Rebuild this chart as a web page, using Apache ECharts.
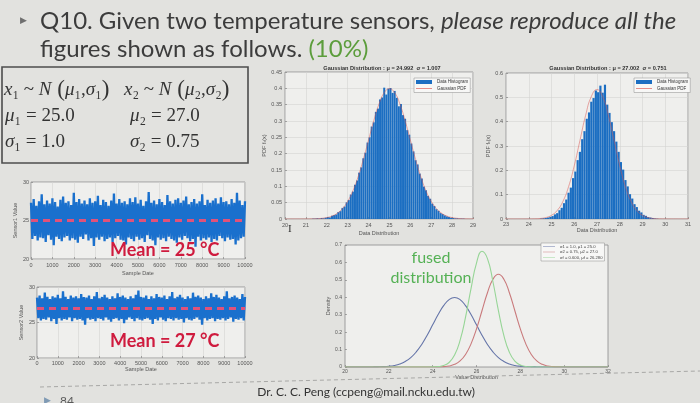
<!DOCTYPE html>
<html><head><meta charset="utf-8">
<script src="https://cdn.jsdelivr.net/npm/echarts@6/dist/echarts.min.js"></script>
<style>html,body{margin:0;padding:0;background:#e2e2df}#c{width:700px;height:403px}</style>
</head><body><div id="c"></div>
<script>
// ---------- data ----------
const sampleMax = 10000;
const sensor1 = [
27.3,22.6,27.8,23.0,26.9,22.4,27.5,22.8,28.4,22.7,
27.1,22.2,27.6,23.1,27.2,22.5,27.9,21.8,27.4,22.9,
26.8,22.6,27.7,22.3,28.1,22.8,27.3,23.0,27.5,22.4,
27.0,22.7,28.6,22.5,27.4,22.1,27.8,22.9,27.2,22.6,
27.6,23.2,27.1,22.4,27.9,22.7,27.3,21.7,27.5,22.8,
28.2,22.5,27.0,22.9,27.7,22.3,27.4,22.6,26.9,22.8,
27.6,22.2,28.5,22.7,27.2,23.0,27.8,22.5,27.3,22.4,
27.5,21.9,27.1,22.8,27.9,22.6,27.4,22.3,28.0,22.9,
27.2,22.5,27.7,22.7,26.9,22.2,27.5,23.1,28.7,22.6,
27.3,22.4,27.6,21.8,27.1,22.8,27.8,22.5,27.4,22.7,
27.0,22.3,28.3,22.9,27.5,22.6,27.2,22.4,27.7,22.1,
27.9,22.8,27.3,22.5,27.6,23.0,28.1,22.7,27.1,22.3,
27.4,22.6,27.8,21.6,27.2,22.9,27.5,22.4,28.4,22.7,
27.0,22.5,27.7,22.8,27.3,22.2,27.6,22.6,27.9,22.4,
27.2,23.0,28.0,22.7,27.4,22.3,27.5,22.8,27.1,22.5,
27.8,22.6,27.3,21.9,28.6,22.4,27.6,22.7,27.0,22.9,
27.5];
const sensor2 = [
28.5,25.6,28.8,25.3,28.4,25.5,29.2,25.4,28.6,25.7,
28.3,25.2,28.7,25.5,28.5,24.8,28.9,25.6,28.4,25.3,
29.4,25.5,28.6,25.4,28.3,25.7,28.8,25.2,28.5,25.6,
28.7,25.4,28.4,25.5,29.0,25.3,28.6,24.7,28.5,25.6,
28.8,25.4,28.3,25.5,28.7,25.2,29.3,25.6,28.4,25.5,
28.6,25.3,28.9,25.7,28.5,25.4,28.3,25.1,28.7,25.5,
28.4,25.6,29.1,25.3,28.6,25.5,28.8,24.9,28.5,25.4,
28.3,25.7,28.7,25.5,28.4,25.2,28.9,25.6,29.5,25.4,
28.6,25.3,28.5,25.5,28.8,25.6,28.3,25.4,28.7,24.8,
28.4,25.5,29.0,25.3,28.6,25.7,28.5,25.4,28.8,25.2,
28.3,25.6,28.7,25.5,29.3,25.3,28.4,25.6,28.6,25.4,
28.9,25.5,28.5,25.0,28.3,25.6,28.7,25.4,28.4,25.3,
29.2,25.5,28.6,25.7,28.8,25.4,28.5,24.7,28.3,25.6,
28.7,25.3,28.4,25.5,29.1,25.6,28.6,25.2,28.9,25.5,
28.5,25.4,28.3,25.6,28.7,25.3,29.4,25.5,28.4,25.7,
28.6,25.1,28.8,25.5,28.5,25.4,28.3,25.6,29.0,25.3,
28.6];
const mean1 = 25;
const mean2 = 27;

const hist1Start = 21.3, hist1Width = 0.1;
const hist1 = [
0.001,0.001,0.002,0.001,0.003,0.002,0.004,0.006,0.005,0.010,
0.012,0.014,0.021,0.024,0.034,0.038,0.051,0.058,0.075,0.084,
0.105,0.118,0.142,0.158,0.186,0.203,0.234,0.250,0.283,0.296,
0.328,0.338,0.366,0.372,0.402,0.381,0.399,0.401,0.386,0.392,
0.371,0.345,0.352,0.318,0.307,0.272,0.258,0.231,0.207,0.180,
0.167,0.139,0.124,0.099,0.088,0.071,0.062,0.047,0.040,0.030,
0.025,0.018,0.015,0.011,0.008,0.006,0.004,0.003,0.002,0.002,
0.001,0.001,0.001,0.000];
const hist2Start = 24.5, hist2Width = 0.1;
const hist2 = [
0.002,0.003,0.004,0.006,0.009,0.012,0.019,0.024,0.036,0.046,
0.065,0.080,0.108,0.129,0.168,0.195,0.242,0.276,0.328,0.361,
0.412,0.438,0.482,0.497,0.528,0.521,0.548,0.519,0.552,0.470,
0.436,0.398,0.361,0.318,0.276,0.234,0.203,0.160,0.134,0.102,
0.084,0.061,0.049,0.034,0.027,0.017,0.013,0.008,0.006,0.004,
0.002,0.001];

const pdfX = [20,20.25,20.5,20.75,21,21.25,21.5,21.75,22,22.25,22.5,22.75,23,23.25,23.5,23.75,
24,24.25,24.5,24.75,25,25.25,25.5,25.75,26,26.25,26.5,26.75,27,27.25,27.5,27.75,
28,28.25,28.5,28.75,29,29.25,29.5,29.75,30,30.25,30.5,30.75,31,31.25,31.5,31.75,32];
const pdf1 = [0,0,0,0,0.0001,0.0004,0.0009,0.0020,0.0044,0.0091,0.0175,0.0317,0.0540,0.0863,0.1295,0.1826,
0.2420,0.3011,0.3521,0.3867,0.3989,0.3867,0.3521,0.3011,0.2420,0.1826,0.1295,0.0863,0.0540,0.0317,0.0175,0.0091,
0.0044,0.0020,0.0009,0.0004,0.0001,0,0,0,0,0,0,0,0,0,0,0,0];
const pdf2 = [0,0,0,0,0,0,0,0,0,0,0,0,0,0,0,0,
0.0002,0.0006,0.0021,0.0059,0.0152,0.0350,0.0720,0.1327,0.2187,0.3227,0.4259,0.5032,0.5319,0.5032,0.4259,0.3227,
0.2187,0.1327,0.0720,0.0350,0.0152,0.0059,0.0021,0.0006,0.0002,0,0,0,0,0,0,0,0];
const pdfF = [0,0,0,0,0,0,0,0,0,0,0,0,0,0,0,0.0001,
0.0005,0.0022,0.0082,0.0258,0.0683,0.1523,0.2857,0.4501,0.5963,0.6640,0.6217,0.4892,0.3237,0.1799,0.0842,0.0331,
0.0109,0.0030,0.0007,0.0002,0,0,0,0,0,0,0,0,0,0,0,0,0];

const legendF = ['σ1 = 1.0, μ1 = 25.0', 'σ2 = 0.75, μ2 = 27.0', 'σf = 0.600, μf = 26.280'];
const title1 = 'Gaussian Distribution : μ = 24.992  σ = 1.007';
const title2 = 'Gaussian Distribution : μ = 27.002  σ = 0.751';

// ---------- chart ----------
const chart = echarts.init(document.getElementById('c'), null, {renderer: 'canvas'});
const G = [
  {left:31, top:182, width:214, height:77},
  {left:37, top:287, width:208, height:71},
  {left:285, top:72, width:188, height:147},
  {left:506, top:73, width:182, height:146},
  {left:345, top:245, width:263, height:122}
];
const grids = G.map(g => Object.assign({show:true, backgroundColor:'#efefed', borderColor:'#8c8c8c', borderWidth:0.8, outerBoundsMode:'none', containLabel:false}, g));

const fmt = v => String(Math.round(v * 1e6) / 1e6);
const lbl = {color:'#555', fontSize:5.5, margin:3, fontFamily:'Liberation Sans', showMinLabel:true, showMaxLabel:true, formatter: fmt};
const nm = {color:'#555', fontSize:5.5, fontFamily:'Liberation Sans'};
function ax(gi, min, max, interval, name, gap, extra) {
  return Object.assign({
    gridIndex: gi, type: 'value', min, max, interval,
    name, nameLocation: 'middle', nameGap: gap, nameTextStyle: nm,
    axisLine: {show: false},
    axisTick: {show: true, inside: true, length: 2, lineStyle: {color: '#777', width: 0.6}},
    axisLabel: Object.assign({}, lbl),
    splitLine: {show: true, lineStyle: {color: '#d3d3d1', width: 0.6}}
  }, extra || {});
}
const xAxes = [
  ax(0, 0, sampleMax, 1000, 'Sample Date', 11, {axisLabel: Object.assign({}, lbl, {margin: 3})}),
  ax(1, 0, sampleMax, 1000, 'Sample Date', 7, {axisLabel: Object.assign({}, lbl, {margin: 2})}),
  ax(2, 20, 29, 1, 'Data Distribution', 11, {}),
  ax(3, 23, 31, 1, 'Data Distribution', 8, {axisLabel: Object.assign({}, lbl, {margin: 2})}),
  ax(4, 20, 32, 2, 'Value Distribution', 6, {splitLine: {show: false}, axisLabel: Object.assign({}, lbl, {margin: 2, fontSize: 5})})
];
const yAxes = [
  ax(0, 20, 30, 5, 'Sensor1 Value', 12, {nameRotate: 90, axisLabel: Object.assign({}, lbl, {margin: 2})}),
  ax(1, 20, 30, 5, 'Sensor2 Value', 11, {nameRotate: 90, axisLabel: Object.assign({}, lbl, {margin: 2})}),
  ax(2, 0, 0.45, 0.05, 'PDF fₓ(x)', 18, {nameRotate: 90}),
  ax(3, 0, 0.6, 0.1, 'PDF fₓ(x)', 13, {nameRotate: 90}),
  ax(4, 0, 0.7, 0.1, 'Density', 10, {nameRotate: 90, splitLine: {show: false}, axisLabel: Object.assign({}, lbl, {fontSize: 5})})
];

const step1 = sampleMax / (sensor1.length - 1);
const step2 = sampleMax / (sensor2.length - 1);
const bw1 = G[2].width * hist1Width / (29 - 20);
const bw2 = G[3].width * hist2Width / (31 - 23);
const meanLine = v => ({silent: true, symbol: 'none', label: {show: false}, emphasis: {disabled: true},
  lineStyle: {color: '#e0527a', type: [7, 5], width: 3}, data: [{yAxis: v}]});

const series = [
  {type:'line', name:'Sensor1', xAxisIndex:0, yAxisIndex:0, symbol:'none', silent:true,
   data: sensor1.map((v,i)=>[i*step1, v]), lineStyle:{color:'#1a70cd', width:2.3}, markLine: meanLine(mean1)},
  {type:'line', name:'Sensor2', xAxisIndex:1, yAxisIndex:1, symbol:'none', silent:true,
   data: sensor2.map((v,i)=>[i*step2, v]), lineStyle:{color:'#1a70cd', width:2.3}, markLine: meanLine(mean2)},
  {type:'bar', name:'Data Histogram', xAxisIndex:2, yAxisIndex:2, barWidth: bw1 - 0.1, silent:true,
   data: hist1.map((v,i)=>[hist1Start + hist1Width*(i+0.5), v]),
   itemStyle:{color:'#1b6ec2'}},
  {type:'line', name:'Gaussian PDF', xAxisIndex:2, yAxisIndex:2, symbol:'none', smooth:true, silent:true,
   data: pdfX.map((x,i)=>[x, pdf1[i]]), lineStyle:{color:'#d9534f', width:0.5}, itemStyle:{color:'#d9534f'}},
  {type:'bar', name:'Data Histogram', xAxisIndex:3, yAxisIndex:3, barWidth: bw2 - 0.1, silent:true,
   data: hist2.map((v,i)=>[hist2Start + hist2Width*(i+0.5), v]),
   itemStyle:{color:'#1b6ec2'}},
  {type:'line', name:'Gaussian PDF', xAxisIndex:3, yAxisIndex:3, symbol:'none', smooth:true, silent:true,
   data: pdfX.map((x,i)=>[x, pdf2[i]]), lineStyle:{color:'#d9534f', width:0.5}, itemStyle:{color:'#d9534f'}},
  {type:'line', name:legendF[0], xAxisIndex:4, yAxisIndex:4, symbol:'none', smooth:true, silent:true,
   data: pdfX.map((x,i)=>[x, pdf1[i]]), lineStyle:{color:'#6474a8', width:1.1}, itemStyle:{color:'#6474a8'}},
  {type:'line', name:legendF[1], xAxisIndex:4, yAxisIndex:4, symbol:'none', smooth:true, silent:true,
   data: pdfX.map((x,i)=>[x, pdf2[i]]), lineStyle:{color:'#c97a7c', width:1.1}, itemStyle:{color:'#c97a7c'}},
  {type:'line', name:legendF[2], xAxisIndex:4, yAxisIndex:4, symbol:'none', smooth:true, silent:true,
   data: pdfX.map((x,i)=>[x, pdfF[i]]), lineStyle:{color:'#96d596', width:1.1}, itemStyle:{color:'#96d596'}}
];

const lineIcon = 'path://M0,0H30V1.2H0Z';
const legBase = {orient:'vertical', itemWidth:16, itemHeight:4, itemGap:1.5, padding:[1.5,2],
  textStyle:{fontSize:4.5, color:'#333', fontFamily:'Liberation Sans'}, backgroundColor:'#f7f7f6',
  borderColor:'#8a8a8a', borderWidth:0.5, selectedMode:false};
const histLegendData = [{name:'Data Histogram', icon:'rect'}, {name:'Gaussian PDF', icon: lineIcon}];
const legends = [
  Object.assign({}, legBase, {data:histLegendData, left:414, top:78}),
  Object.assign({}, legBase, {data:histLegendData, left:634, top:78}),
  Object.assign({}, legBase, {data:legendF.map(n => ({name:n, icon:lineIcon})), left:541, top:243, itemWidth:12, itemHeight:3, itemGap:1.5,
    textStyle:{fontSize:4.2, color:'#444', fontFamily:'Liberation Sans'}})
];

const T = (x, y, text, font, fill, align, extra) => Object.assign({type:'text', x, y, z:100, silent:true,
  style:{text, font, fill, align: align || 'left', verticalAlign:'middle'}}, extra || {});
const serif = 'Liberation Serif';
const fs = 19;
const mathText = (x, y, text) => ({type:'text', x, y, z:100, silent:true, style:{text, verticalAlign:'middle',
  font: fs + 'px ' + serif, fill:'#333',
  rich:{i:{fontStyle:'italic', fontFamily:serif, fontSize:fs, fill:'#333', color:'#333'},
        r:{fontFamily:serif, fontSize:fs, fill:'#333', color:'#333'},
        p:{fontFamily:serif, fontSize:23, fill:'#333', color:'#333'}}}});
const graphic = [
  T(20, 21, '▶', '9px DejaVu Sans', '#6f6f6f'),
  {type:'text', x:40, y:21, z:100, silent:true, style:{
    text:'{a|Q10. Given two temperature sensors, }{b|please reproduce all the}', verticalAlign:'middle',
    rich:{a:{fontFamily:'Lato', fontSize:24, fill:'#3c3c3c', color:'#3c3c3c'},
          b:{fontFamily:'Lato', fontSize:24, fontStyle:'italic', fill:'#3c3c3c', color:'#3c3c3c'}}}},
  {type:'text', x:40, y:49, z:100, silent:true, style:{
    text:'{a|figures shown as follows. }{g|(10%)}', verticalAlign:'middle',
    rich:{a:{fontFamily:'Lato', fontSize:24, fill:'#3c3c3c', color:'#3c3c3c'},
          g:{fontFamily:'Lato', fontSize:24, fill:'#5c9d3c', color:'#5c9d3c'}}}},
  {type:'rect', z:100, silent:true, shape:{x:2, y:67, width:246, height:96}, style:{fill:'none', stroke:'#4d4d4d', lineWidth:1.6}},
  mathText(4, 90, '{i|x}{r|₁ ~ }{i|N}{p| (}{i|μ}{r|₁,}{i|σ}{r|₁}{p|)}'),
  mathText(124, 90, '{i|x}{r|₂ ~ }{i|N}{p| (}{i|μ}{r|₂,}{i|σ}{r|₂}{p|)}'),
  mathText(5, 116, '{i|μ}{r|₁ = 25.0}'),
  mathText(130, 116, '{i|μ}{r|₂ = 27.0}'),
  mathText(5, 142, '{i|σ}{r|₁ = 1.0}'),
  mathText(130, 142, '{i|σ}{r|₂ = 0.75}'),
  T(110, 250, 'Mean = 25 °C', 'bold 18px Lato', '#cf1b3e'),
  T(110, 341, 'Mean = 27 °C', 'bold 18px Lato', '#cf1b3e'),
  T(382, 68, title1, 'bold 5.6px Liberation Sans', '#333', 'center'),
  T(608, 68, title2, 'bold 5.6px Liberation Sans', '#333', 'center'),
  T(431, 258, 'fused', '16px Lato', '#55b155', 'center'),
  T(431, 278, 'distribution', '16px Lato', '#55b155', 'center'),
  {type:'line', z:90, silent:true, shape:{x1:40, y1:387, x2:700, y2:371}, style:{stroke:'#a8a8a6', lineWidth:1, lineDash:[4,3]}},
  T(475, 392, 'Dr. C. C. Peng (ccpeng@mail.ncku.edu.tw)', '12px Lato', '#333', 'right'),
  T(44, 401, '▶', '9px DejaVu Sans', '#7f9ab4'),
  T(60, 401, '84', '12px Lato', '#5a5a5a'),
  T(288, 229, 'I', '11px Liberation Serif', '#333')
];

chart.setOption({
  animation: false,
  backgroundColor: '#e2e2df',
  grid: grids, xAxis: xAxes, yAxis: yAxes, series, legend: legends, graphic,
  tooltip: {show: false}
});
</script></body></html>
